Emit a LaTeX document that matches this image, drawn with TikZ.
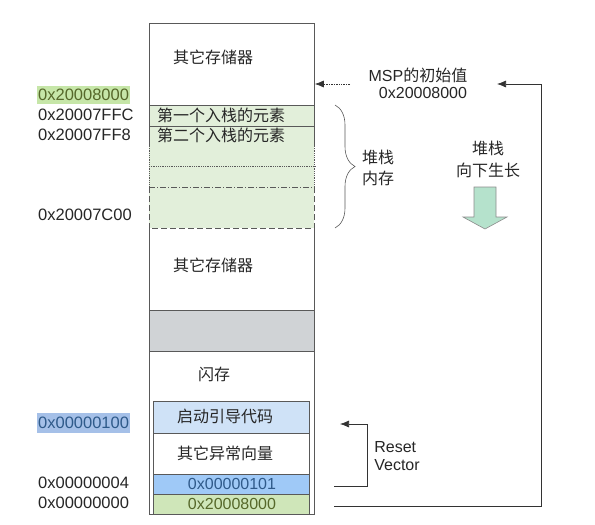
\documentclass[tikz,border=0pt]{standalone}
\usepackage{fontspec}
\setmainfont{Liberation Sans}
\newfontfamily\cjk{Noto Sans CJK SC}
\usetikzlibrary{arrows.meta,decorations.pathreplacing}
\definecolor{stackgreen}{HTML}{E2EFDA}
\definecolor{vecgreen}{HTML}{CFE6B9}
\definecolor{vecblue}{HTML}{9FC9F7}
\definecolor{bootblue}{HTML}{CFE2F7}
\definecolor{gapgray}{HTML}{D0D3D6}
\definecolor{hlgreen}{HTML}{C6E6A8}
\definecolor{hlblue}{HTML}{A5C0E8}
\definecolor{olivetext}{HTML}{56682A}
\definecolor{bluetext}{HTML}{2F5A8A}
\definecolor{mint}{HTML}{B5E2CC}
\definecolor{edgegray}{HTML}{595959}

\begin{document}
\begin{tikzpicture}[x=1pt,y=-1pt,>={Latex[length=9pt,width=7pt]},
  cell/.style={draw=edgegray, line width=0.8pt, anchor=north west, minimum width=165, inner sep=0pt},
  innercell/.style={cell, minimum width=156},
  wall/.style={draw=edgegray, line width=0.8pt},
  txt/.style={inner sep=0pt, font=\fontsize{16}{21}\selectfont, text=black!85},
  addr/.style={txt, anchor=west, font=\fontsize{16.5}{21}\selectfont},
  wire/.style={draw=black!80, line width=0.7pt}]
  \useasboundingbox (0,0) rectangle (595,525);

  % memory column
  \node[cell, minimum height=82] (topmem) at (149,23) {};
  \node[cell, fill=stackgreen, minimum height=21] (push1) at (149,105) {};
  \node[cell, fill=stackgreen, minimum height=20] (push2) at (149,126) {};
  \node[cell, draw=none, fill=stackgreen, minimum height=20] (free1) at (149,146) {};
  \node[cell, draw=none, fill=stackgreen, minimum height=21] (free2) at (149,166) {};
  \node[cell, draw=none, fill=stackgreen, minimum height=41] (stacktop) at (149,187) {};
  \node[cell, draw=none, minimum height=82] (lowmem) at (149,228) {};
  \node[cell, fill=gapgray, minimum height=41] (gap) at (149,310) {};
  \node[cell, minimum height=163] (flash) at (149,351) {};

  \draw[wall, densely dotted] (free1.north west) -- (free2.south west)
        (free1.north east) -- (free2.south east)
        (free1.south west) -- (free1.south east);
  \draw[wall, dash pattern=on 6pt off 2pt on 1pt off 2pt] (free2.south west) -- (free2.south east);
  \draw[wall, dash pattern=on 6pt off 3pt] (stacktop.north west) -- (stacktop.south west) -- (stacktop.south east) -- (stacktop.north east);
  \draw[wall] (lowmem.north west) -- (lowmem.south west)
        (lowmem.north east) -- (lowmem.south east);

  % vector table in flash
  \node[innercell, fill=bootblue, minimum height=32] (boot) at (153,401) {};
  \node[innercell, minimum height=41] (vectors) at (153,433) {};
  \node[innercell, fill=vecblue, minimum height=20] (resetcell) at (153,474) {};
  \node[innercell, fill=vecgreen, minimum height=20] (mspcell) at (153,494) {};

  % texts in the column
  \node[txt] (topmemtext) at (213,57) {\cjk 其它存储器};
  \node[txt, anchor=west] (push1text) at (157,115) {\cjk 第一个入栈的元素};
  \node[txt, anchor=west] (push2text) at (157,135) {\cjk 第二个入栈的元素};
  \node[txt] (lowmemtext) at (213,265) {\cjk 其它存储器};
  \node[txt] (flashtext) at (214,374) {\cjk 闪存};
  \node[txt] (boottext) at (225,416) {\cjk 启动引导代码};
  \node[txt] (vectorstext) at (225,453) {\cjk 其它异常向量};
  \node[txt, text=bluetext] (resettext) at (232,484) {0x00000101};
  \node[txt, text=olivetext] (msptext) at (232,504) {0x20008000};

  % addresses
  \node[addr, fill=hlgreen, text=olivetext, inner xsep=1pt, minimum height=18] (a8000) at (37,95) {0x20008000};
  \node[addr] (a7ffc) at (38,115) {0x20007FFC};
  \node[addr] (a7ff8) at (38,135) {0x20007FF8};
  \node[addr] (a7c00) at (38,215) {0x20007C00};
  \node[addr, fill=hlblue, text=bluetext, inner xsep=1pt, minimum height=20] (a0100) at (37,423) {0x00000100};
  \node[addr] (a0004) at (38,483) {0x00000004};
  \node[addr] (a0000) at (38,503) {0x00000000};

  % right side notes
  \node[txt] (mspinit) at (418,75) {MSP{\cjk 的初始值}};
  \node[txt] (mspvalue) at (423,93) {0x20008000};
  \node[txt, align=left] (stackmem) at (378,168) {\cjk 堆栈\\\cjk 内存};
  \node[txt, align=center, font=\fontsize{16}{22}\selectfont] (growdown) at (488,159) {\cjk 堆栈\\\cjk 向下生长};
  \node[txt, align=left, font=\fontsize{16}{18}\selectfont] (resetvec) at (397,456) {Reset\\Vector};

  % brace and growth arrow
  \draw[wall, line width=0.6pt, decorate, decoration={brace, amplitude=20pt}] (335,105) -- (335,228);
  \draw[draw=black!45, fill=mint, line width=0.6pt] (474,187) -- (496,187) -- (496,217) -- (507,217)
        -- (485,229) -- (463,217) -- (474,217) -- cycle;

  % connectors
  \coordinate (msptail) at (350,84);
  \coordinate (loopstart) at (334,506);
  \coordinate (loopcorner) at (541,84);
  \coordinate (looptip) at (497,84);
  \coordinate (rststart) at (334,486);
  \coordinate (rstcorner) at (367,424);
  \coordinate (rsttip) at (340,424);

  \draw[wire, ->, densely dotted] (msptail) -- (msptail -| topmem.east);
  \draw[wire, ->] (loopstart) -| (loopcorner) -- (looptip);
  \draw[wire, ->] (rststart) -| (rstcorner) -- (rsttip);
\end{tikzpicture}
\end{document}
